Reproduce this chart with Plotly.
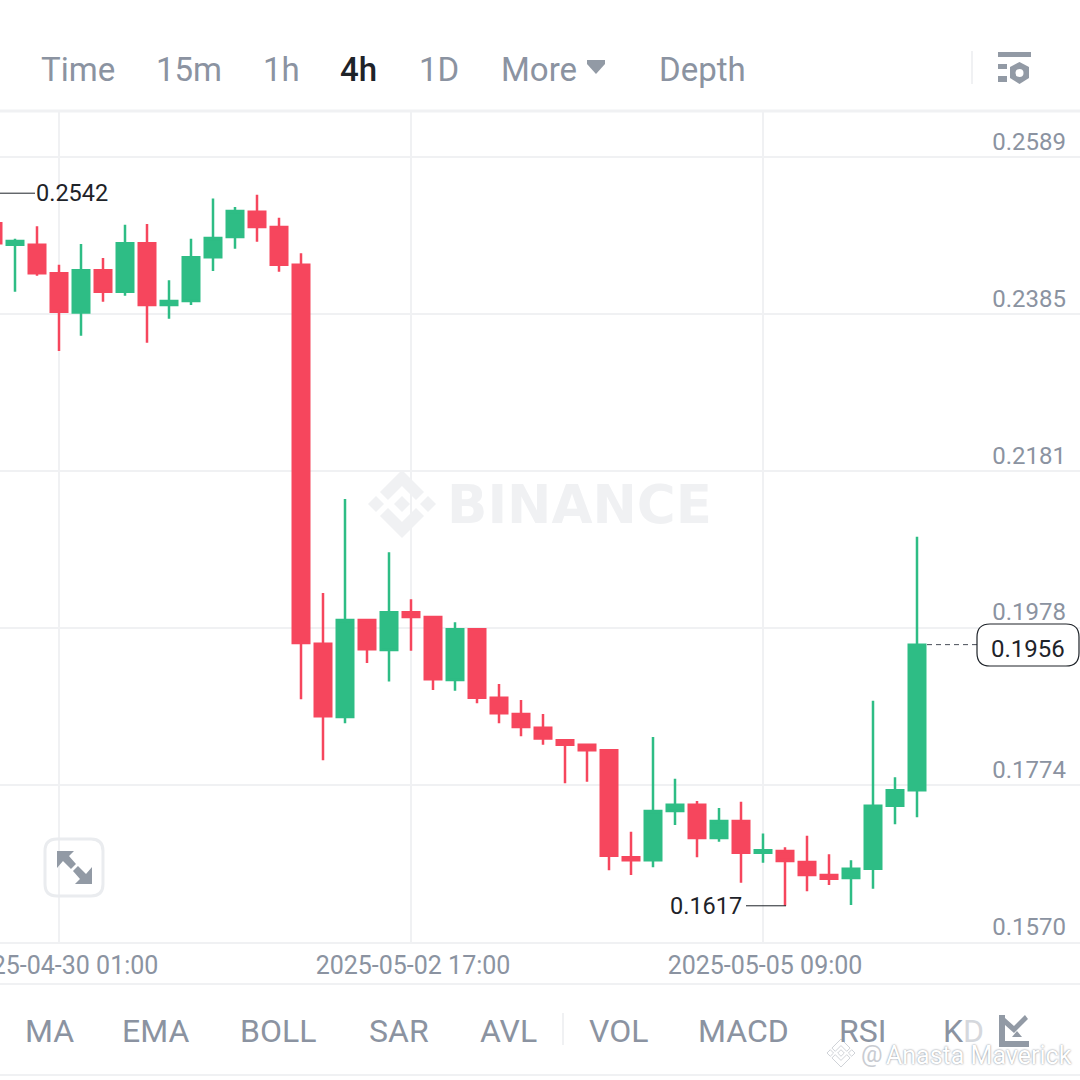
import pandas as pd
import plotly.graph_objects as go

# 4h candles, first one is partly cut by the left edge
open_ = [0.2503, 0.2475, 0.2475, 0.2438, 0.2387, 0.2442, 0.2414, 0.2477, 0.2397, 0.2402, 0.2459,
         0.2485, 0.2518, 0.2498, 0.2449, 0.1957, 0.1862, 0.1988, 0.1949, 0.1998, 0.1992, 0.1910,
         0.1976, 0.1887, 0.1866, 0.1848, 0.1832, 0.1826, 0.1819, 0.1680, 0.1676, 0.1740, 0.1748,
         0.1705, 0.1727, 0.1686, 0.1688, 0.1674, 0.1657, 0.1653, 0.1665, 0.1747, 0.1767]
high = [0.2510, 0.2483, 0.2499, 0.2449, 0.2476, 0.2458, 0.2501, 0.2502, 0.2429, 0.2483, 0.2535,
        0.2524, 0.2540, 0.2510, 0.2464, 0.2023, 0.2145, 0.1988, 0.2076, 0.2015, 0.1993, 0.1985,
        0.1976, 0.1905, 0.1884, 0.1866, 0.1832, 0.1827, 0.1819, 0.1713, 0.1836, 0.1782, 0.1753,
        0.1744, 0.1752, 0.1711, 0.1693, 0.1708, 0.1684, 0.1676, 0.1883, 0.1784, 0.2096]
low = [0.2474, 0.2414, 0.2435, 0.2337, 0.2357, 0.2401, 0.2409, 0.2348, 0.2379, 0.2397, 0.2441,
       0.2470, 0.2479, 0.2440, 0.1885, 0.1806, 0.1854, 0.1932, 0.1908, 0.1948, 0.1897, 0.1896,
       0.1880, 0.1854, 0.1837, 0.1826, 0.1776, 0.1778, 0.1663, 0.1657, 0.1667, 0.1722, 0.1680,
       0.1700, 0.1647, 0.1673, 0.1617, 0.1636, 0.1644, 0.1618, 0.1639, 0.1723, 0.1732]
close = [0.2477, 0.2480, 0.2438, 0.2388, 0.2442, 0.2414, 0.2477, 0.2397, 0.2402, 0.2459, 0.2484,
         0.2519, 0.2498, 0.2449, 0.1958, 0.1863, 0.1988, 0.1950, 0.1998, 0.1992, 0.1911, 0.1976,
         0.1887, 0.1867, 0.1849, 0.1834, 0.1826, 0.1819, 0.1682, 0.1676, 0.1740, 0.1748, 0.1705,
         0.1727, 0.1686, 0.1689, 0.1675, 0.1657, 0.1652, 0.1665, 0.1747, 0.1767, 0.1956]
dates = pd.date_range("2025-04-29 13:00", periods=len(open_), freq="4h")

price_ticks = [0.1570, 0.1774, 0.1978, 0.2181, 0.2385, 0.2589]
date_ticks = ["2025-04-30 01:00", "2025-05-02 17:00", "2025-05-05 09:00"]

window_start = "2025-04-29 14:16:22"
window_end = "2025-05-07 18:38:11"
price_min = 0.1570
price_max = 0.26474

high_mark = 0.2542
low_mark = 0.1617
last_price = 0.1956

top_tabs = ["Time", "15m", "1h", "4h", "1D", "More", "Depth"]
top_tabs_x = [40, 155, 262, 339, 418, 500, 658]
bottom_tabs = ["MA", "EMA", "BOLL", "SAR", "AVL", "VOL", "MACD", "RSI"]
bottom_tabs_x = [24, 121, 239, 368, 479, 588, 697, 838]

RED = "#F6465D"
GREEN = "#2EBD85"
GREY = "#8B93A1"
DARK = "#1E2329"
GRID = "#F0F1F3"
FONT = "Roboto"


def px(x):
    return x / 1080


def py(y):
    return 1 - y / 1080


def poly(points):
    return "M " + " L ".join(f"{px(x):.5f},{py(y):.5f}" for x, y in points) + " Z"


def rounded(x0, y0, x1, y1, r):
    c = lambda x, y: f"{px(x):.5f},{py(y):.5f}"
    return (f"M {c(x0 + r, y0)} L {c(x1 - r, y0)} Q {c(x1, y0)} {c(x1, y0 + r)} "
            f"L {c(x1, y1 - r)} Q {c(x1, y1)} {c(x1 - r, y1)} L {c(x0 + r, y1)} "
            f"Q {c(x0, y1)} {c(x0, y1 - r)} L {c(x0, y0 + r)} Q {c(x0, y0)} {c(x0 + r, y0)} Z")


def logo_paths(cx, cy, s):
    # binance mark, s is the half height
    parts = [
        [(0, -8), (8, 0), (0, 8), (-8, 0)],
        [(-26, -8), (-18, 0), (-26, 8), (-34, 0)],
        [(26, -8), (34, 0), (26, 8), (18, 0)],
        [(0, -34), (22, -12), (14, -4), (0, -18), (-14, -4), (-22, -12)],
        [(0, 34), (22, 12), (14, 4), (0, 18), (-14, 4), (-22, 12)],
    ]
    k = s / 34
    return [poly([(cx + a * k, cy + b * k) for a, b in p]) for p in parts]


def fill_shape(path, color, layer="above"):
    return dict(type="path", xref="paper", yref="paper", path=path, fillcolor=color,
                line=dict(width=0), layer=layer)


def hline(x0, x1, y, color=GRID, width=2):
    return dict(type="line", xref="paper", yref="paper", x0=px(x0), x1=px(x1), y0=py(y), y1=py(y),
                line=dict(color=color, width=width), layer="below")


def vline(x, y0, y1, color=GRID, width=2):
    return dict(type="line", xref="paper", yref="paper", x0=px(x), x1=px(x), y0=py(y0), y1=py(y1),
                line=dict(color=color, width=width), layer="below")


def label(text, x, y, size=32, color=GREY, anchor="left", weight=400):
    return dict(text=text, xref="paper", yref="paper", x=px(x), y=py(y), showarrow=False,
                xanchor=anchor, yanchor="middle", borderpad=0,
                font=dict(family=FONT, size=size, color=color, weight=weight))


fig = go.Figure(go.Candlestick(
    x=dates, open=open_, high=high, low=low, close=close,
    increasing=dict(line=dict(color=GREEN, width=2.5), fillcolor=GREEN),
    decreasing=dict(line=dict(color=RED, width=2.5), fillcolor=RED),
    whiskerwidth=0, showlegend=False,
))

shapes = [
    hline(0, 1080, 111, width=3),
    hline(0, 1080, 984),
    hline(0, 1080, 1075),
    vline(972, 51, 84),
    vline(563, 1013, 1045),
]

# watermark
for p in logo_paths(402, 504, 34):
    shapes.append(fill_shape(p, "#F0F1F3", "below"))

# price markers
shapes.append(dict(type="line", xref="paper", yref="y", x0=0, x1=px(35), y0=high_mark, y1=high_mark,
                   line=dict(color=DARK, width=1)))
shapes.append(dict(type="line", xref="paper", x0=px(746), yref="y", x1=px(786), y0=low_mark, y1=low_mark,
                   line=dict(color=DARK, width=1)))
shapes.append(dict(type="line", xref="paper", yref="y", x0=px(927), x1=px(977), y0=last_price, y1=last_price,
                   line=dict(color="#474D57", width=1, dash="5px,4px")))
shapes.append(dict(type="path", xref="paper", yref="paper", path=rounded(977, 624, 1079, 666, 13),
                   fillcolor="white", line=dict(color=DARK, width=1.2)))

# expand button
shapes.append(dict(type="path", xref="paper", yref="paper", path=rounded(45, 839, 103, 896, 12),
                   fillcolor="rgba(255,255,255,0)", line=dict(color="#EAECEF", width=3)))
shapes.append(fill_shape(poly([(57, 851), (74, 851), (69, 856), (76, 864), (71, 869), (63, 861), (57, 868)]), "#929AA5"))
shapes.append(fill_shape(poly([(92, 884), (75, 884), (80, 879), (73, 871), (78, 866), (86, 874), (92, 867)]), "#929AA5"))

# More arrow
shapes.append(fill_shape(poly([(587, 60), (605, 60), (605, 64), (596, 74), (587, 64)]), "#929AA5"))

# settings icon
shapes.append(fill_shape(poly([(998, 52), (1031, 52), (1031, 57), (998, 57)]), "#929AA5"))
shapes.append(fill_shape(poly([(998, 64), (1007, 64), (1007, 69), (998, 69)]), "#929AA5"))
shapes.append(fill_shape(poly([(998, 76), (1007, 76), (1007, 82), (998, 82)]), "#929AA5"))
shapes.append(fill_shape(poly([(1019.5, 62), (1029, 67), (1029, 78), (1019.5, 84), (1010, 78), (1010, 67)]), "#929AA5"))
shapes.append(dict(type="circle", xref="paper", yref="paper", x0=px(1015.5), x1=px(1023.5), y0=py(77), y1=py(69),
                   fillcolor="white", line=dict(width=0)))

# indicator icon
shapes.append(fill_shape(poly([(999, 1015), (1005, 1015), (1005, 1041), (1029, 1041), (1029, 1047), (999, 1047)]), "#929AA5"))
shapes.append(fill_shape(poly([(1005, 1018), (1014, 1026), (1025, 1015), (1028, 1019), (1014, 1033), (1005, 1025)]), "#929AA5"))
shapes.append(fill_shape(poly([(1012, 1037), (1017, 1031), (1022, 1037)]), "#929AA5"))

# author mark in the corner
for p in logo_paths(841, 1053, 14):
    shapes.append(dict(type="path", xref="paper", yref="paper", path=p, fillcolor="white",
                       line=dict(color="#D0D3D8", width=1)))

annotations = []
for name, x in zip(top_tabs, top_tabs_x):
    active = name == "4h"
    annotations.append(label(name, x, 70, 33, DARK if active else GREY, weight=500 if active else 400))
for name, x in zip(bottom_tabs, bottom_tabs_x):
    annotations.append(label(name, x, 1031, 32))
annotations.append(label('K<span style="color:#D5D8DD">D</span>', 942, 1031, 32))

annotations.append(dict(text="BINANCE", xref="paper", yref="paper", x=px(445), y=py(504), showarrow=False,
                        xanchor="left", yanchor="middle",
                        font=dict(family="DejaVu Sans", size=53, color="#F0F1F3", weight=700)))
annotations.append(dict(text="0.2542", xref="paper", yref="y", x=px(35), y=high_mark, showarrow=False,
                        xanchor="left", yanchor="middle", borderpad=0, font=dict(family=FONT, size=23.5, color=DARK)))
annotations.append(dict(text="0.1617", xref="paper", yref="y", x=px(669), y=low_mark, showarrow=False,
                        xanchor="left", yanchor="middle", borderpad=0, font=dict(family=FONT, size=23.5, color=DARK)))
annotations.append(dict(text="0.1956", xref="paper", yref="paper", x=px(1066), y=py(649), showarrow=False,
                        xanchor="right", yanchor="middle", borderpad=0, font=dict(family=FONT, size=24, color=DARK)))
annotations.append(dict(text="@", xref="paper", yref="paper", x=px(860), y=py(1054), showarrow=False,
                        xanchor="left", yanchor="middle", borderpad=0,
                        font=dict(family=FONT, size=24, color="#C9CCD2")))
annotations.append(dict(text="Anasta Maverick", xref="paper", yref="paper", x=px(885), y=py(1055), showarrow=False,
                        xanchor="left", yanchor="middle", borderpad=0,
                        font=dict(family=FONT, size=25, color="white", shadow="0 0 2px #6F7682")))

fig.update_layout(
    width=1080, height=1080,
    margin=dict(l=0, r=0, t=0, b=0),
    plot_bgcolor="white", paper_bgcolor="white",
    boxgap=0.25, boxgroupgap=0,
    shapes=shapes, annotations=annotations,
    hovermode=False,
)
fig.update_xaxes(
    type="date", domain=[0, 1], range=[window_start, window_end],
    rangeslider_visible=False, automargin=False,
    tickmode="array", tickvals=date_ticks, tickformat="%Y-%m-%d %H:%M",
    ticklabeloverflow="allow", ticklabelshift=2,
    tickfont=dict(family=FONT, size=25, color=GREY),
    showgrid=True, gridcolor=GRID, gridwidth=2,
    showline=True, linecolor=GRID, linewidth=2,
    ticks="",
    zeroline=False,
)
fig.update_yaxes(
    domain=[py(942), py(112)], range=[price_min, price_max], side="right", automargin=False,
    tickmode="array", tickvals=price_ticks,
    ticktext=[f"{v:.4f}<br> " for v in price_ticks],
    ticklabelposition="inside", ticklabelstandoff=11, ticklabeloverflow="allow",
    tickfont=dict(family=FONT, size=24, color=GREY),
    showgrid=True, gridcolor=GRID, gridwidth=2,
    zeroline=False, showline=False,
)

# the page has a default 8px body margin, drop it so the figure fills the window
fig.write_html("out.html", config={"displayModeBar": False},
               post_script="document.body.style.margin='0';")
